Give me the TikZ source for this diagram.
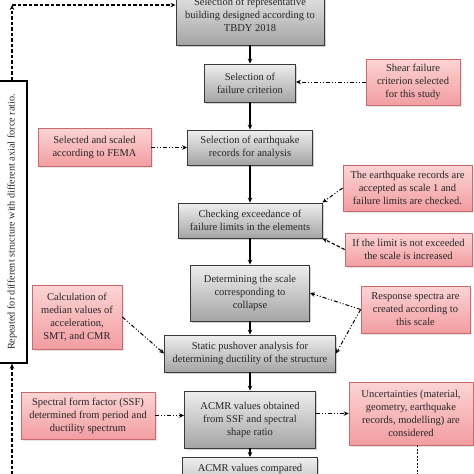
\documentclass[tikz,border=0pt]{standalone}
\usepackage{fontspec}
\setmainfont{Liberation Serif}
\usetikzlibrary{arrows.meta,positioning,shadows,calc}
\definecolor{boxtop}{HTML}{EEEEEE}
\definecolor{boxbot}{HTML}{A4A4A4}
\definecolor{boxline}{HTML}{3A3A3A}
\definecolor{pinktop}{HTML}{FCD4D4}
\definecolor{pinkbot}{HTML}{F29DA1}
\definecolor{pinkline}{HTML}{C96A6D}
\tikzset{
    step box/.style={draw=boxline, line width=.9pt, top color=boxtop, bottom color=boxbot,
        align=center, inner sep=2pt,
        drop shadow={opacity=.35, shadow xshift=1.5pt, shadow yshift=-1.5pt}},
    note box/.style={draw=pinkline, line width=.7pt, top color=pinktop, bottom color=pinkbot,
        align=center, inner sep=2pt,
        drop shadow={opacity=.2, shadow xshift=1.5pt, shadow yshift=-1.5pt}},
    arr/.style={->,>={Stealth[length=5pt,width=4.5pt]},line width=1.1pt},
    dotarr/.style={arr, line width=1pt, dash pattern=on 4pt off 2pt on 1pt off 2pt on 1pt off 2pt},
    dasharr/.style={arr, line width=1.1pt, dash pattern=on 3.5pt off 2pt},
    dotline/.style={line width=.8pt, dash pattern=on 2pt off 1.5pt},
}
\tikzstyle{every node}=[font=\fontsize{10.5}{13}\selectfont, text=black!85]

\begin{document}
\begin{tikzpicture}[x=1pt,y=-1pt]
    \useasboundingbox (0,0) rectangle (474,474);

    % main steps
    \node[step box, minimum width=148pt, minimum height=60pt] (design) at (250,15)
    {Selection of representative\\building designed according to\\TBDY 2018};
    \node[step box, minimum width=91pt, minimum height=38pt] (crit) at (250,83)
    {Selection of\\failure criterion};
    \node[step box, minimum width=125pt, minimum height=35pt] (records) at (250,147.5)
    {Selection of earthquake\\records for analysis};
    \node[step box, minimum width=144pt, minimum height=35pt] (check) at (250,220.5)
    {Checking exceedance of\\failure limits in the elements};
    \node[step box, minimum width=119pt, minimum height=56pt] (scale) at (250,293)
    {Determining the scale\\corresponding to\\collapse};
    \node[step box, minimum width=171pt, minimum height=37pt] (pushover) at (250,353.5)
    {Static pushover analysis for\\determining ductility of the structure};
    \node[step box, minimum width=131pt, minimum height=57pt] (acmr) at (250,419.5)
    {ACMR values obtained\\from SSF and spectral\\shape ratio};
    \node[step box, minimum width=135pt, anchor=north, text height=12pt, text depth=30pt] (compare) at (250,457)
    {ACMR values compared};

    % notes
    \node[note box, minimum width=94pt, minimum height=46pt] (shear) at (413,82)
    {Shear failure\\criterion selected\\for this study};
    \node[note box, minimum width=113pt, minimum height=38pt] (fema) at (94.5,147.5)
    {Selected and scaled\\according to FEMA};
    \node[note box, minimum width=129pt, minimum height=46pt] (accept) at (407.5,188)
    {The earthquake records are\\accepted as scale 1 and\\failure limits are checked.};
    \node[note box, minimum width=127pt, minimum height=33pt] (increase) at (408.5,249.5)
    {If the limit is not exceeded\\the scale is increased};
    \node[note box, minimum width=109pt, minimum height=47pt] (spectra) at (415.5,309.5)
    {Response spectra are\\created according to\\this scale};
    \node[note box, minimum width=90pt, minimum height=64pt] (median) at (77,317)
    {Calculation of\\median values of\\acceleration,\\SMT, and CMR};
    \node[note box, minimum width=134pt, minimum height=47pt] (ssf) at (88,415.5)
    {Spectral form factor (SSF)\\determined from period and\\ductility spectrum};
    \node[note box, minimum width=124pt, minimum height=63pt] (uncert) at (411,413.5)
    {Uncertainties (material,\\geometry, earthquake\\records, modelling) are\\considered};

    % repetition
    \node[draw, line width=1.5pt, rotate=90, minimum width=282pt, minimum height=30pt,
    font=\fontsize{10.2}{12}\selectfont] (repeat) at (12,222)
    {Repeated for different structure with different axial force ratio.};

    % flow
    \draw[arr] (design) -- (crit);
    \draw[arr] (crit) -- (records);
    \draw[arr] (records) -- (check);
    \draw[arr] (check) -- (scale);
    \draw[arr] (scale) -- (pushover);
    \draw[arr] (pushover) -- (acmr);
    \draw[arr] (acmr) -- (compare);

    \draw[dotarr] (shear.west) -- (shear.west -| crit.east);
    \draw[dotarr] (fema) -- (records);
    \draw[dotarr] (accept.west) -- (check.north east);
    \draw[dasharr] (increase.west) -- (check.south east);
    \draw[dotarr] (spectra.west) -- (scale.east);
    \draw[dotarr] (spectra.west) -- (pushover.east);
    \draw[dotarr] (median.east) -- (pushover.west);
    \draw[dotarr] (ssf.east) -- (ssf.east -| acmr.west);
    \draw[dotarr] (uncert.west -| acmr.east) -- (uncert.west);

    \coordinate (uncertout) at (417,480);
    \draw[dotline] (uncertout |- uncert.south) -- (uncertout);

    % loop back
    \coordinate (corner) at (12,5);
    \coordinate (loopin) at (12,480);
    \draw[dasharr] (loopin) -- (repeat);
    \draw[dasharr] (repeat) -- (corner);
    \draw[dasharr] (corner) -- (corner -| design.west);
\end{tikzpicture}
\end{document}
